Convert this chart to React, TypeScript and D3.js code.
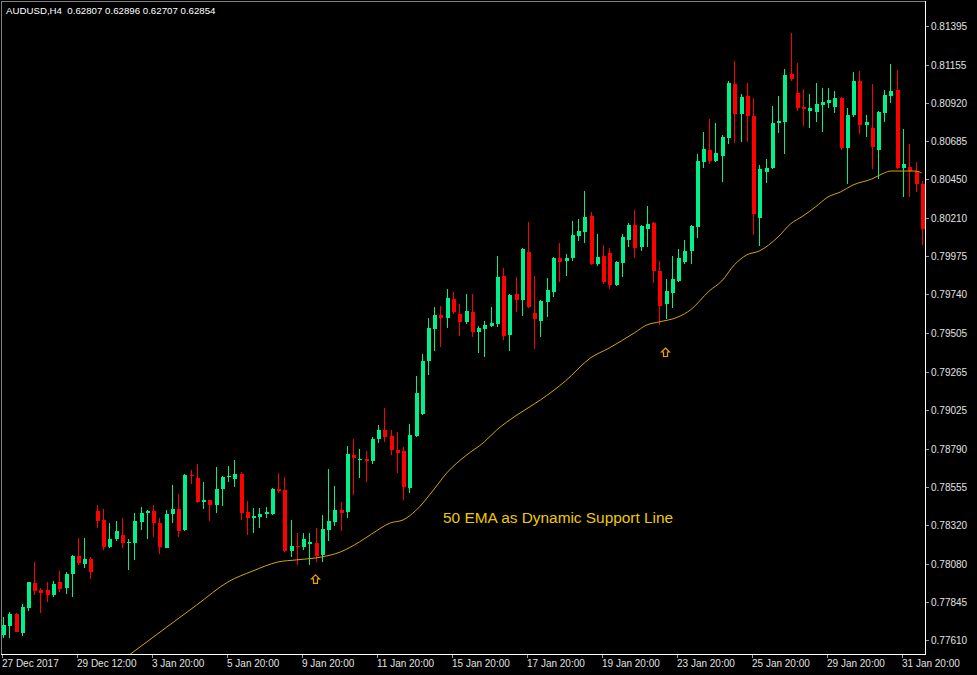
import * as d3 from "d3";

const opens = [0.77641,0.77697,0.77771,0.77654,0.77808,0.77962,0.77919,0.77919,0.77888,0.77968,0.77931,0.78017,0.78128,0.78079,0.78110,0.78406,0.78350,0.78184,0.78233,0.78258,0.78208,0.78208,0.78338,0.78393,0.78406,0.78332,0.78177,0.78387,0.78418,0.78288,0.78627,0.78609,0.78461,0.78473,0.78443,0.78541,0.78615,0.78603,0.78634,0.78399,0.78362,0.78369,0.78387,0.78387,0.78541,0.78535,0.78159,0.78190,0.78184,0.78202,0.78208,0.78134,0.78288,0.78338,0.78412,0.78399,0.78751,0.78720,0.78726,0.78714,0.78849,0.78905,0.78868,0.78782,0.78775,0.78547,0.78868,0.79003,0.79330,0.79527,0.79614,0.79595,0.79712,0.79620,0.79571,0.79632,0.79509,0.79527,0.79546,0.79558,0.79854,0.79490,0.79743,0.79706,0.80002,0.79626,0.79577,0.79694,0.79755,0.79965,0.79947,0.79965,0.80101,0.80125,0.80224,0.79928,0.79977,0.79996,0.79799,0.79934,0.80076,0.80168,0.80033,0.80144,0.80181,0.79885,0.79681,0.79749,0.79823,0.79940,0.80008,0.80156,0.80557,0.80631,0.80563,0.80594,0.80705,0.81038,0.80853,0.80964,0.80840,0.80212,0.80495,0.80520,0.80797,0.80803,0.81099,0.80982,0.80896,0.80871,0.80865,0.80908,0.80920,0.80896,0.80951,0.80643,0.80846,0.81056,0.80785,0.80766,0.80631,0.80859,0.80964,0.81001,0.80520,0.80526,0.80501,0.80421];
const highs = [0.77752,0.77783,0.77777,0.77832,0.77968,0.78091,0.77931,0.77968,0.77974,0.78036,0.78030,0.78134,0.78239,0.78239,0.78122,0.78443,0.78418,0.78332,0.78344,0.78362,0.78233,0.78393,0.78430,0.78412,0.78443,0.78362,0.78412,0.78566,0.78510,0.78634,0.78658,0.78695,0.78584,0.78473,0.78677,0.78621,0.78683,0.78720,0.78646,0.78467,0.78424,0.78424,0.78430,0.78547,0.78640,0.78615,0.78350,0.78270,0.78270,0.78270,0.78301,0.78381,0.78664,0.78560,0.78461,0.78806,0.78849,0.78788,0.78775,0.78862,0.78936,0.79040,0.78905,0.78893,0.78800,0.78942,0.79238,0.79373,0.79595,0.79663,0.79669,0.79774,0.79755,0.79681,0.79743,0.79743,0.79546,0.79577,0.79663,0.79977,0.79903,0.79743,0.79848,0.80027,0.80187,0.79854,0.79706,0.79842,0.79971,0.80057,0.79990,0.80193,0.80205,0.80378,0.80249,0.80113,0.80045,0.80027,0.79947,0.80113,0.80181,0.80261,0.80168,0.80286,0.80187,0.79947,0.79836,0.79977,0.80021,0.80076,0.80168,0.80606,0.80742,0.80822,0.80797,0.80723,0.81056,0.81179,0.80976,0.81044,0.80951,0.80538,0.80575,0.80902,0.80964,0.81130,0.81352,0.81167,0.81007,0.80976,0.81044,0.81013,0.81013,0.80994,0.80957,0.80890,0.81112,0.81118,0.80846,0.81038,0.80871,0.81001,0.81161,0.81124,0.80760,0.80668,0.80557,0.80440];
const lows = [0.77623,0.77623,0.77660,0.77635,0.77789,0.77888,0.77777,0.77845,0.77875,0.77906,0.77894,0.77875,0.78073,0.78054,0.77986,0.78301,0.78165,0.78177,0.78221,0.78177,0.78042,0.78104,0.78288,0.78233,0.78245,0.78140,0.78177,0.78332,0.78245,0.78282,0.78572,0.78455,0.78418,0.78344,0.78393,0.78436,0.78584,0.78553,0.78350,0.78258,0.78270,0.78301,0.78362,0.78381,0.78516,0.78153,0.78122,0.78073,0.78165,0.78073,0.78091,0.78091,0.78221,0.78313,0.78282,0.78362,0.78504,0.78609,0.78584,0.78695,0.78825,0.78831,0.78751,0.78640,0.78473,0.78516,0.78862,0.78997,0.79244,0.79392,0.79416,0.79534,0.79620,0.79484,0.79558,0.79478,0.79379,0.79355,0.79540,0.79540,0.79460,0.79392,0.79632,0.79608,0.79657,0.79404,0.79478,0.79601,0.79725,0.79817,0.79854,0.79947,0.80070,0.80057,0.79922,0.79916,0.79805,0.79774,0.79792,0.79848,0.80033,0.79965,0.80008,0.80033,0.79811,0.79552,0.79589,0.79657,0.79817,0.79928,0.79928,0.80088,0.80520,0.80544,0.80557,0.80434,0.80668,0.80674,0.80680,0.80680,0.80107,0.80039,0.80427,0.80514,0.80736,0.80606,0.81056,0.80871,0.80779,0.80766,0.80803,0.80742,0.80890,0.80859,0.80631,0.80421,0.80834,0.80729,0.80711,0.80514,0.80452,0.80803,0.80920,0.80514,0.80341,0.80341,0.80372,0.80045];
const closes = [0.77703,0.77771,0.77660,0.77814,0.77968,0.77912,0.77900,0.77888,0.77956,0.77925,0.78017,0.78128,0.78085,0.78110,0.78030,0.78344,0.78184,0.78233,0.78282,0.78208,0.78214,0.78344,0.78393,0.78406,0.78332,0.78184,0.78387,0.78418,0.78282,0.78627,0.78621,0.78461,0.78473,0.78443,0.78541,0.78615,0.78621,0.78634,0.78393,0.78362,0.78375,0.78387,0.78399,0.78541,0.78529,0.78159,0.78190,0.78184,0.78233,0.78214,0.78128,0.78295,0.78344,0.78412,0.78393,0.78757,0.78732,0.78726,0.78714,0.78849,0.78905,0.78862,0.78782,0.78763,0.78553,0.78874,0.79133,0.79330,0.79534,0.79614,0.79595,0.79718,0.79632,0.79571,0.79638,0.79509,0.79534,0.79552,0.79564,0.79848,0.79484,0.79737,0.79706,0.80021,0.79663,0.79589,0.79700,0.79768,0.79965,0.79940,0.79965,0.80107,0.80131,0.80218,0.79928,0.79971,0.79817,0.79799,0.79940,0.80094,0.80168,0.80027,0.80162,0.80175,0.79885,0.79669,0.79762,0.79836,0.79965,0.80008,0.80162,0.80563,0.80637,0.80563,0.80612,0.80711,0.81044,0.80853,0.80957,0.80840,0.80236,0.80514,0.80520,0.80797,0.80810,0.81093,0.81068,0.80890,0.80883,0.80890,0.80914,0.80927,0.80939,0.80951,0.80643,0.80846,0.81056,0.80785,0.80803,0.80649,0.80865,0.80970,0.80994,0.80520,0.80544,0.80501,0.80421,0.80144];

// 50 EMA, read at these bar indices
const emaBars = [20,26,31,36,40,44,47,51,54,57,59,62,64,66,69,71,74,77,79,82,86,90,94,97,101,103,105,108,110,113,115,117,119,121,124,126,128,130,132,134,136,139,141,142,146,147];
const emaValues = [0.77512,0.77684,0.77826,0.77968,0.78036,0.78091,0.78104,0.78122,0.78153,0.78214,0.78264,0.78332,0.78350,0.78406,0.78541,0.78640,0.78745,0.78831,0.78905,0.78991,0.79090,0.79207,0.79349,0.79410,0.79503,0.79552,0.79571,0.79601,0.79645,0.79762,0.79823,0.79922,0.79984,0.80008,0.80094,0.80175,0.80224,0.80280,0.80341,0.80372,0.80415,0.80452,0.80489,0.80501,0.80501,0.80489];

const timeTickBars = [0,12,24,36,48,60,72,84,96,108,120,132,144];
const timeLabels = ["27 Dec 2017","29 Dec 12:00","3 Jan 20:00","5 Jan 20:00","9 Jan 20:00","11 Jan 20:00","15 Jan 20:00","17 Jan 20:00","19 Jan 20:00","23 Jan 20:00","25 Jan 20:00","29 Jan 20:00","31 Jan 20:00"];
const priceLabels = ["0.81395","0.81155","0.80920","0.80685","0.80450","0.80210","0.79975","0.79740","0.79505","0.79265","0.79025","0.78790","0.78555","0.78320","0.78080","0.77845","0.77610"];

const arrowBars = [50, 106];
const arrowPrices = [0.78011, 0.79410];

const W = 977;
const H = 675;
const plotRight = 925;
const plotBottom = 654;
const bull = "#00F08C";
const bear = "#FF0000";
const font = "'Liberation Sans', Arial, sans-serif";

export default function App() {
  const x = d3.scaleLinear().domain([0, 147]).range([3, 3 + 6.25 * 147]);
  const y = d3.scaleLinear().domain([0.7761, 0.81395]).range([640, 26]);

  const emaLine = d3
    .line<number>()
    .x((_, i) => x(emaBars[i]))
    .y((d) => y(d))
    .curve(d3.curveMonotoneX);

  return (
    <svg
      width={W}
      height={H}
      style={{ position: "absolute", left: 0, top: 0, display: "block", background: "#000" }}
    >
      <defs>
        <clipPath id="plot">
          <rect x={2} y={2} width={plotRight - 2} height={plotBottom - 2} />
        </clipPath>
      </defs>
      <rect width={W} height={H} fill="#000" />

      <g clipPath="url(#plot)">
        {opens.map((o, i) => {
          const c = closes[i];
          const up = c >= o;
          const col = up ? bull : bear;
          const cx = Math.round(x(i));
          const top = y(Math.max(o, c));
          const bot = y(Math.min(o, c));
          return (
            <g key={i} shapeRendering="crispEdges">
              <line x1={cx + 0.5} x2={cx + 0.5} y1={y(highs[i])} y2={y(lows[i])} stroke={col} strokeWidth={1} />
              <rect x={cx - 1} y={top} width={4} height={Math.max(1, bot - top)} fill={col} />
            </g>
          );
        })}
        <path d={emaLine(emaValues) ?? ""} fill="none" stroke="#D2A800" strokeWidth={1} />
      </g>

      {arrowBars.map((b, i) => {
        const cx = x(b);
        const ty = y(arrowPrices[i]);
        const pts = [
          [cx, ty],
          [cx + 4, ty + 4],
          [cx + 2, ty + 4],
          [cx + 2, ty + 8.5],
          [cx - 2, ty + 8.5],
          [cx - 2, ty + 4],
          [cx - 4, ty + 4],
        ]
          .map((p) => p.join(","))
          .join(" ");
        return <polygon key={i} points={pts} fill="none" stroke="#F0A000" strokeWidth={1.2} />;
      })}

      <text x={443} y={523} fill="#EEC900" fontFamily={font} fontSize={15.4}>
        50 EMA as Dynamic Support Line
      </text>

      {/* frame */}
      <line x1={1.5} x2={1.5} y1={1} y2={plotBottom} stroke="#808080" />
      <line x1={1} x2={plotRight} y1={1.5} y2={1.5} stroke="#808080" />
      <line x1={plotRight + 0.5} x2={plotRight + 0.5} y1={1} y2={plotBottom + 1} stroke="#fff" />
      <line x1={1} x2={plotRight + 1} y1={plotBottom + 0.5} y2={plotBottom + 0.5} stroke="#fff" />

      {priceLabels.map((t) => {
        const py = Math.round(y(+t));
        return (
          <g key={t}>
            <line x1={plotRight + 1} x2={plotRight + 4} y1={py + 0.5} y2={py + 0.5} stroke="#9a9a9a" />
            <text x={931} y={py} dy="0.35em" fill="#e0e0e0" fontFamily={font} fontSize={10}>
              {t}
            </text>
          </g>
        );
      })}

      {timeTickBars.map((b, i) => {
        const tx = Math.round(x(b)) - 1;
        return (
          <g key={b}>
            <line x1={tx + 0.5} x2={tx + 0.5} y1={plotBottom + 1} y2={plotBottom + 4} stroke="#9a9a9a" />
            <text x={tx} y={667} fill="#e0e0e0" fontFamily={font} fontSize={10}>
              {timeLabels[i]}
            </text>
          </g>
        );
      })}

      <text x={6} y={14} fill="#fff" fontFamily={font} fontSize={9.7} style={{ whiteSpace: "pre" }}>
        {"AUDUSD,H4  0.62807 0.62896 0.62707 0.62854"}
      </text>
    </svg>
  );
}
